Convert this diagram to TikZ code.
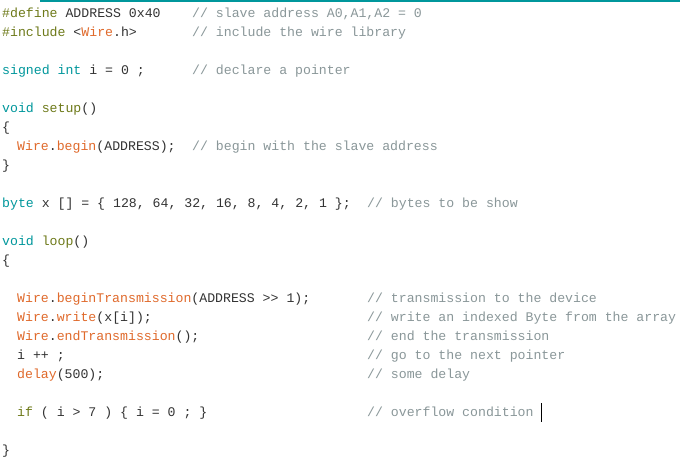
\documentclass[tikz,border=0pt]{standalone}
\usepackage{fontspec}
\newfontfamily\cf{Liberation Mono}
\definecolor{kw}{HTML}{00979C}
\definecolor{fn}{HTML}{E06A2C}
\definecolor{cm}{HTML}{8A9799}
\definecolor{ol}{HTML}{6E7A1A}
\definecolor{tx}{HTML}{333333}
\newcommand{\K}[1]{\textcolor{kw}{#1}}
\newcommand{\F}[1]{\textcolor{fn}{#1}}
\newcommand{\OL}[1]{\textcolor{ol}{#1}}
\begin{document}
\begin{tikzpicture}[x=1pt,y=-1pt,
  code/.style={anchor=mid west,inner sep=0pt,yshift=-2pt,font=\cf\fontsize{13.2}{15}\selectfont,text=tx},
  cmt/.style={code,text=cm}]
\useasboundingbox[fill=white] (0,0) rectangle (680,463);
\draw[kw,line width=2pt] (40,1) -- (680,1);
\node[code] (l1) at (2,13) {\OL{\#define} ADDRESS 0x40};
\node[cmt] (c1) at (192,13) {// slave address A0,A1,A2 = 0};
\node[code] (l2) at (2,32) {\OL{\#include} <\F{Wire}.h>};
\node[cmt] (c2) at (192,32) {// include the wire library};
\node[code] (l3) at (2,70) {\K{signed int} i = 0 ;};
\node[cmt] (c3) at (192,70) {// declare a pointer};
\node[code] (l4) at (2,108) {\K{void} \OL{setup}()};
\node[code] (l5) at (2,127) {\{};
\node[code] (l6) at (17,146) {\F{Wire}.\F{begin}(ADDRESS);};
\node[cmt] (c6) at (192,146) {// begin with the slave address};
\node[code] (l7) at (2,165) {\}};
\node[code] (l8) at (2,203) {\K{byte} x [] = \{ 128, 64, 32, 16, 8, 4, 2, 1 \};};
\node[cmt] (c8) at (367,203) {// bytes to be show};
\node[code] (l9) at (2,241) {\K{void} \OL{loop}()};
\node[code] (l10) at (2,260) {\{};
\node[code] (l11) at (17,298) {\F{Wire}.\F{beginTransmission}(ADDRESS >> 1);};
\node[cmt] (c11) at (367,298) {// transmission to the device};
\node[code] (l12) at (17,317) {\F{Wire}.\F{write}(x[i]);};
\node[cmt] (c12) at (367,317) {// write an indexed Byte from the array};
\node[code] (l13) at (17,336) {\F{Wire}.\F{endTransmission}();};
\node[cmt] (c13) at (367,336) {// end the transmission};
\node[code] (l14) at (17,355) {i ++ ;};
\node[cmt] (c14) at (367,355) {// go to the next pointer};
\node[code] (l15) at (17,374) {\F{delay}(500);};
\node[cmt] (c15) at (367,374) {// some delay};
\node[code] (l16) at (17,412) {\OL{if} ( i > 7 ) \{ i = 0 ; \}};
\node[cmt] (c16) at (367,412) {// overflow condition};
\draw[black,line width=1pt] (541,403) -- (541,422);
\node[code] (l17) at (2,450) {\}};
\end{tikzpicture}
\end{document}
